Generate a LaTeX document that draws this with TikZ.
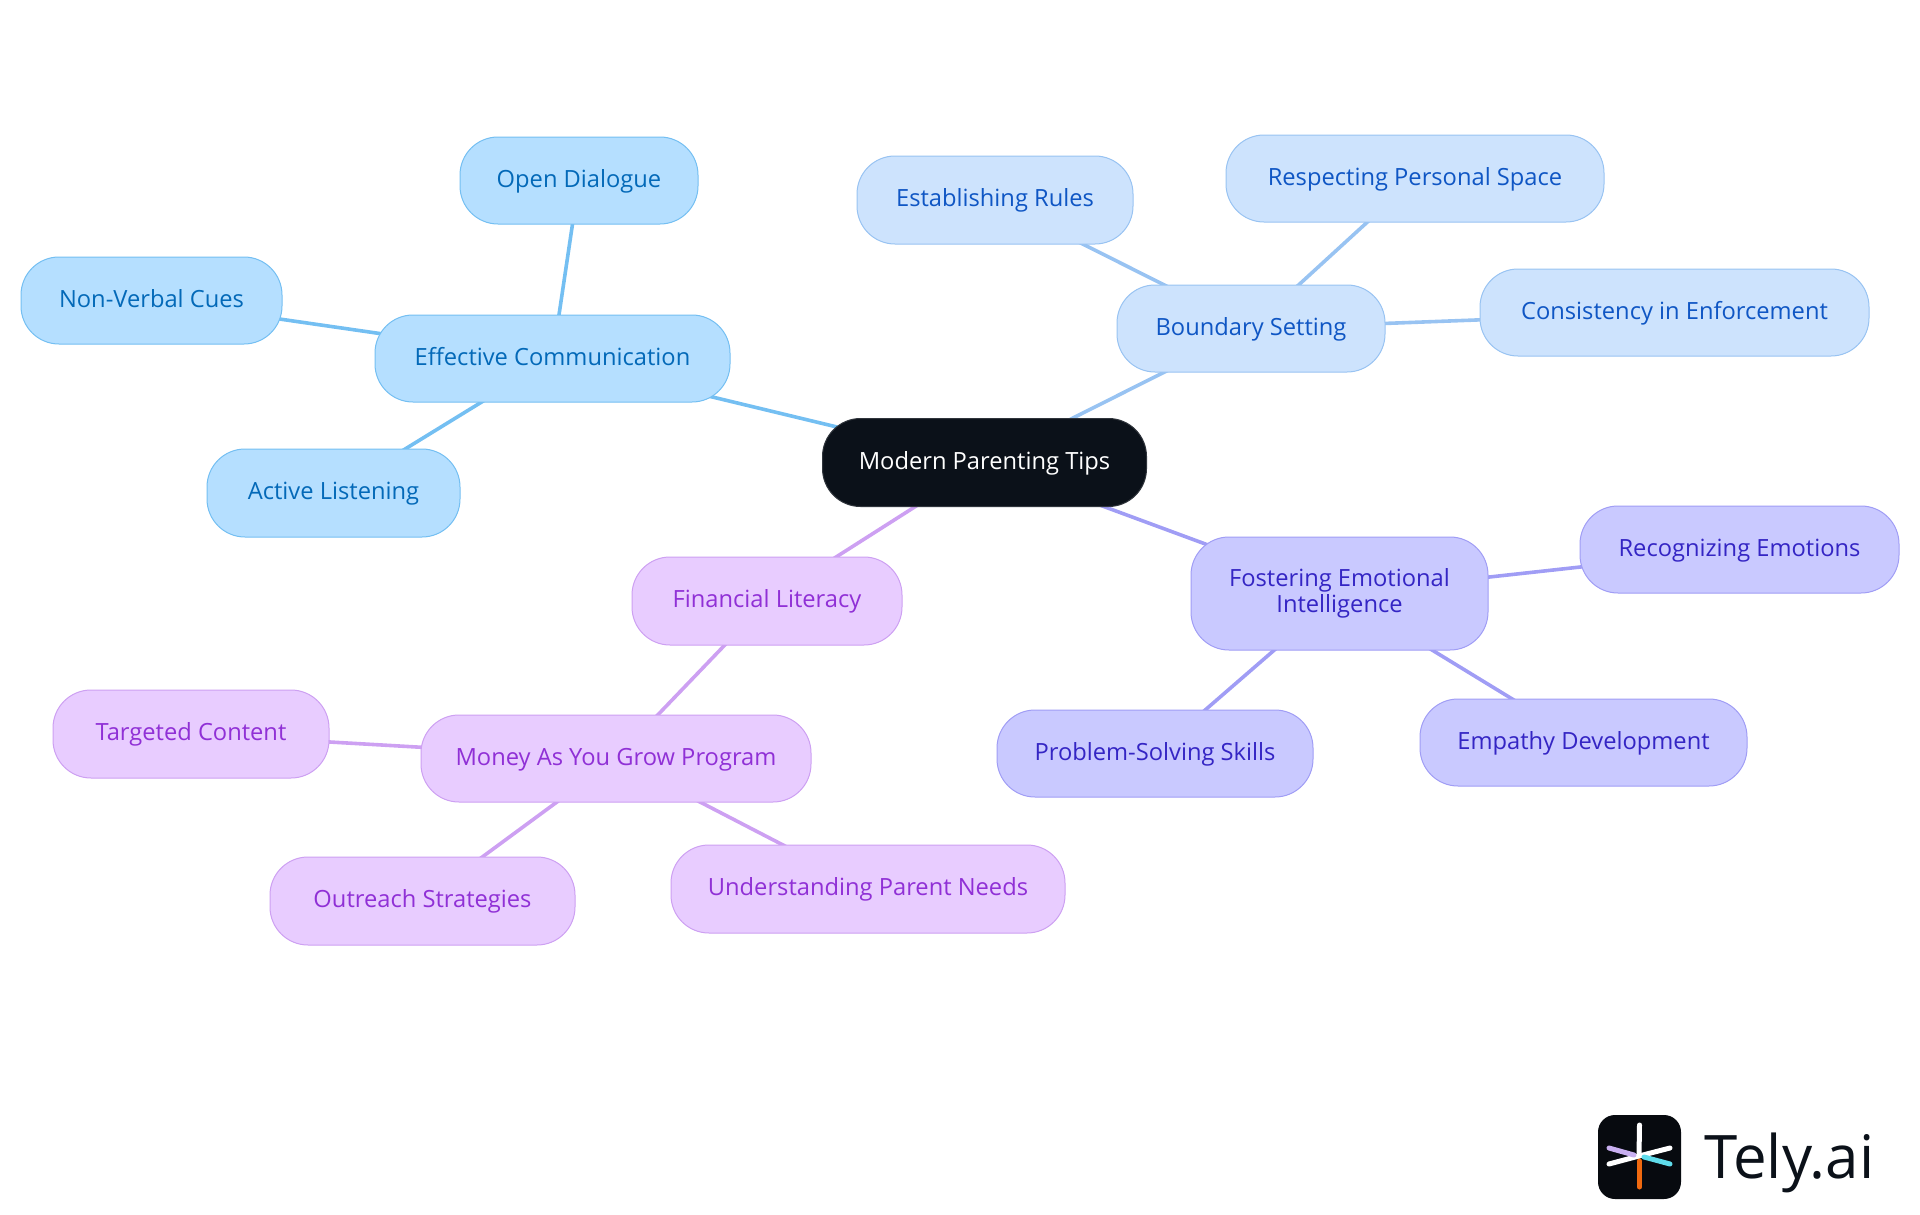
\documentclass[tikz,border=0pt]{standalone}
\usepackage{fontspec}
\setmainfont{Open Sans}
\usetikzlibrary{backgrounds}
\definecolor{rootfill}{HTML}{0B1119}
\definecolor{bluefill}{HTML}{B5DFFF}
\definecolor{blueline}{HTML}{74BFF2}
\definecolor{bluetext}{HTML}{0369B8}
\definecolor{skyfill}{HTML}{CDE3FD}
\definecolor{skyline}{HTML}{98C3F2}
\definecolor{skytext}{HTML}{0F56C4}
\definecolor{indfill}{HTML}{C9C9FF}
\definecolor{indline}{HTML}{A09DF5}
\definecolor{indtext}{HTML}{3425C4}
\definecolor{purfill}{HTML}{E8CCFF}
\definecolor{purline}{HTML}{CDA0F2}
\definecolor{purtext}{HTML}{9030D6}
\tikzset{
  x=1pt,y=-1pt,
  mm/.style={draw,rectangle,rounded corners=38pt,inner sep=0pt,line width=1pt,align=center,text height=18pt,text depth=5pt,font=\fontsize{23.7}{25.7}\selectfont},
  rootbox/.style={mm,fill=rootfill,draw=rootfill!85!white,text=white},
  bluebox/.style={mm,fill=bluefill,draw=blueline,text=bluetext},
  skybox/.style={mm,fill=skyfill,draw=skyline,text=skytext},
  indbox/.style={mm,fill=indfill,draw=indline,text=indtext},
  purbox/.style={mm,fill=purfill,draw=purline,text=purtext},
  wire/.style={line width=3.6pt},
  logoline/.style={line width=5pt,line cap=round},
}
\begin{document}
\begin{tikzpicture}
\useasboundingbox (0,0) rectangle (1920,1215);
\node[rootbox,minimum width=324pt,minimum height=88pt] (root) at (984.5,462.5) {Modern Parenting Tips};
\node[bluebox,minimum width=355pt,minimum height=87pt] (ec) at (552.5,358.5) {Effective Communication};
\node[bluebox,minimum width=238pt,minimum height=87pt] (od) at (579,180.5) {Open Dialogue};
\node[bluebox,minimum width=261pt,minimum height=87pt] (nv) at (151.5,300.5) {Non-Verbal Cues};
\node[bluebox,minimum width=253pt,minimum height=88pt] (al) at (333.5,493) {Active Listening};
\node[skybox,minimum width=268pt,minimum height=87pt] (bs) at (1251,328.5) {Boundary Setting};
\node[skybox,minimum width=276pt,minimum height=88pt] (er) at (995,200) {Establishing Rules};
\node[skybox,minimum width=378pt,minimum height=87pt] (rp) at (1415,178.5) {Respecting Personal Space};
\node[skybox,minimum width=389pt,minimum height=87pt] (ce) at (1674.5,312.5) {Consistency in Enforcement};
\node[indbox,text height=42pt,text depth=4pt,minimum width=297pt,minimum height=113pt] (fe) at (1339.5,593.5) {Fostering Emotional\\Intelligence};
\node[indbox,minimum width=319pt,minimum height=87pt] (re) at (1739.5,549.5) {Recognizing Emotions};
\node[indbox,minimum width=327pt,minimum height=87pt] (ed) at (1583.5,742.5) {Empathy Development};
\node[indbox,minimum width=316pt,minimum height=87pt] (ps) at (1155,753.5) {Problem-Solving Skills};
\node[purbox,minimum width=270pt,minimum height=88pt] (fl) at (767,601) {Financial Literacy};
\node[purbox,minimum width=390pt,minimum height=87pt] (mg) at (616,758.5) {Money As You Grow Program};
\node[purbox,minimum width=276pt,minimum height=88pt] (tc) at (191,734) {Targeted Content};
\node[purbox,minimum width=305pt,minimum height=88pt] (os) at (422.5,901) {Outreach Strategies};
\node[purbox,minimum width=394pt,minimum height=88pt] (un) at (868,889) {Understanding Parent Needs};
\begin{scope}[on background layer]
\draw[wire,blueline] (root.center) -- (ec.center);
\draw[wire,blueline] (ec.center) -- (od.center);
\draw[wire,blueline] (ec.center) -- (nv.center);
\draw[wire,blueline] (ec.center) -- (al.center);
\draw[wire,skyline] (root.center) -- (bs.center);
\draw[wire,skyline] (bs.center) -- (er.center);
\draw[wire,skyline] (bs.center) -- (rp.center);
\draw[wire,skyline] (bs.center) -- (ce.center);
\draw[wire,indline] (root.center) -- (fe.center);
\draw[wire,indline] (fe.center) -- (re.center);
\draw[wire,indline] (fe.center) -- (ed.center);
\draw[wire,indline] (fe.center) -- (ps.center);
\draw[wire,purline] (root.center) -- (fl.center);
\draw[wire,purline] (fl.center) -- (mg.center);
\draw[wire,purline] (mg.center) -- (tc.center);
\draw[wire,purline] (mg.center) -- (os.center);
\draw[wire,purline] (mg.center) -- (un.center);
\end{scope}
% logo
\fill[rootfill!60!black,rounded corners=17pt] (1598,1115) rectangle (1681,1199);
\coordinate (lc) at (1639,1156);
\draw[logoline,white] (lc) -- (1639.5,1125);
\draw[logoline,white] (lc) -- (1670,1148);
\draw[logoline,white] (lc) -- (1609,1164);
\draw[logoline,color={rgb,255:red,200;green,175;blue,240}] (1609,1148) -- (1634,1155);
\draw[logoline,color={rgb,255:red,95;green,220;blue,235}] (1644,1157) -- (1670,1164);
\draw[logoline,color={rgb,255:red,240;green,105;blue,15}] (1639.5,1161) -- (1639.5,1187);
\node[anchor=base west,inner sep=0pt,text=rootfill,font=\fontsize{60}{60}\selectfont] (brand) at (1704,1178) {Tely.ai};
\end{tikzpicture}
\end{document}
